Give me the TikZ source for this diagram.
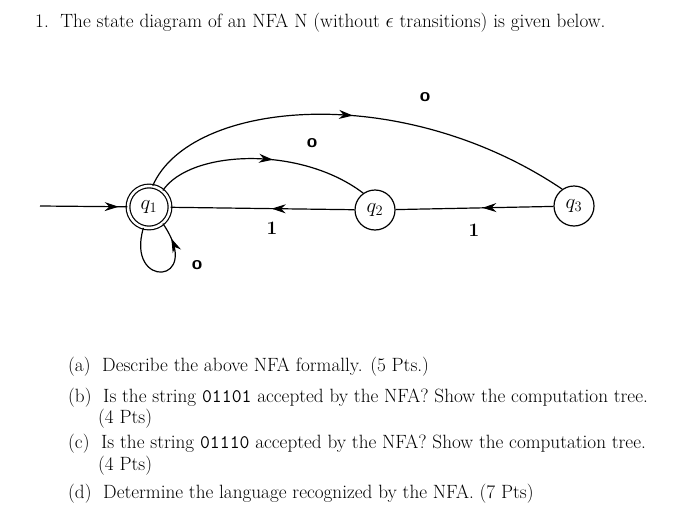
\documentclass[tikz,border=0pt]{standalone}
\usetikzlibrary{decorations.markings,arrows.meta}
\tikzset{
 st/.style={circle,draw,line width=1.2pt,minimum size=40pt,inner sep=0pt,font=\fontsize{22}{22}\selectfont},
 acc/.style={st,double,double distance=2.5pt,minimum size=42pt},
 ed/.style={line width=1.2pt},
 mid/.style={postaction={decorate},decoration={markings,mark=at position #1 with {\arrow{Stealth[length=14pt,width=9pt]}}}},
 lab/.style={font=\fontsize{19}{19}\selectfont\bfseries},
 txt/.style={anchor=base west,inner sep=0pt,font=\fontsize{19.2}{22}\selectfont}
}
\begin{document}
\begin{tikzpicture}[x=1pt,y=-1pt]
\useasboundingbox (0,0) rectangle (684,527);
\node[txt] (title) at (35,28) {1.\ \ The state diagram of an NFA N (without $\epsilon$ transitions) is given below.};
\node[acc] (q1) at (149,207) {$q_1$};
\node[st] (q2) at (375,210) {$q_2$};
\node[st] (q3) at (574,206) {$q_3$};
\coordinate (s) at (40,206);
\draw[ed,mid=0.9] (s) -- (q1);
\draw[ed,mid=0.45] (q2) -- (q1);
\draw[ed,mid=0.45] (q3) -- (q2);
\draw[ed,mid=0.55] (q1.50) .. controls (190,150) and (300,145) .. (q2.125);
\draw[ed,mid=0.5] (q1.80) .. controls (190,100) and (400,80) .. (q3.125);
\draw[ed,mid=0.85] (q1.255) .. controls (125,290) and (205,285) .. (q1.310);
\node[lab] (l1) at (272,228) {1};
\node[lab] (l2) at (474,230) {1};
\node[lab] (l3) at (312,143) {\textsf{o}};
\node[lab] (l4) at (425,97) {\textsf{o}};
\node[lab] (l5) at (197,265) {\textsf{o}};
\node[txt] (a) at (68,371) {(a)\ \ Describe the above NFA formally. (5 Pts.)};
\node[txt] (b) at (68,402) {(b)\ \ Is the string \texttt{01101} accepted by the NFA? Show the computation tree.};
\node[txt] (b2) at (98,423) {(4 Pts)};
\node[txt] (c) at (68,448) {(c)\ \ Is the string \texttt{01110} accepted by the NFA? Show the computation tree.};
\node[txt] (c2) at (98,470) {(4 Pts)};
\node[txt] (d) at (68,498) {(d)\ \ Determine the language recognized by the NFA. (7 Pts)};
\end{tikzpicture}
\end{document}
